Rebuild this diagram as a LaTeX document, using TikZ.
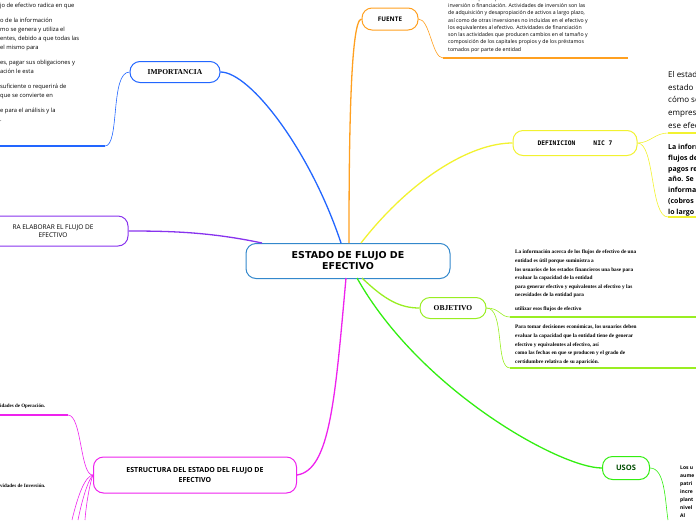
\documentclass[tikz,border=0pt]{standalone}
\usepackage{fontspec}
\setmainfont{Liberation Serif}
\setsansfont{Open Sans}
\newfontfamily\heavy{DejaVu Sans}
\newfontfamily\monof{DejaVu Sans Mono}
\definecolor{cblue}{HTML}{2266FF}
\definecolor{corange}{HTML}{FFA020}
\definecolor{cyel}{HTML}{F2F230}
\definecolor{clgreen}{HTML}{99EE22}
\definecolor{cgreen}{HTML}{33EE11}
\definecolor{cpurple}{HTML}{8833EE}
\definecolor{cmag}{HTML}{EE22EE}
\definecolor{ccenter}{HTML}{3388CC}
\begin{document}
\begin{tikzpicture}[x=1pt,y=-1pt,
 topic/.style={draw=#1, line width=1pt, rounded corners=10pt, fill=white, inner sep=0pt, align=center},
 conn/.style={draw=#1, line width=1.3pt},
 thinln/.style={draw=#1, line width=0.6pt},
 under/.style={draw=#1, line width=1.6pt},
 txt/.style={anchor=north west, inner sep=0pt, align=left, font=\sffamily\fontsize{5.8}{9}\selectfont},
 stxt/.style={anchor=north west, inner sep=0pt, align=left, font=\bfseries\fontsize{5.3}{8.6}\selectfont}]
\useasboundingbox (0,0) rectangle (696,520);
\begin{scope}
\clip (0,0) rectangle (696,520);
\node[topic=ccenter, minimum width=204pt, minimum height=35pt, font=\heavy\bfseries\fontsize{9.5}{11}\selectfont] (c) at (348,261) {ESTADO DE FLUJO DE\\EFECTIVO};
\node[topic=cblue, minimum width=90pt, minimum height=21pt, font=\bfseries\fontsize{7.5}{8}\selectfont] (imp) at (175,72) {IMPORTANCIA};
\node[topic=corange, minimum width=56pt, minimum height=22pt, font=\sffamily\bfseries\fontsize{6.3}{7}\selectfont] (fue) at (390,19) {FUENTE};
\node[topic=cyel, minimum width=124pt, minimum height=25pt, font=\monof\bfseries\fontsize{6.3}{7}\selectfont] (def) at (575,143) {DEFINICION\hspace{18pt}NIC 7};
\node[topic=clgreen, minimum width=66pt, minimum height=21pt, font=\bfseries\fontsize{7.5}{8}\selectfont] (obj) at (453,308) {OBJETIVO};
\node[topic=cgreen, minimum width=47pt, minimum height=23pt, font=\sffamily\bfseries\fontsize{7.5}{8}\selectfont, text=black!70!green] (uso) at (626,468) {USOS};
\node[topic=cpurple, minimum width=150pt, minimum height=30pt, font=\sffamily\fontsize{6.5}{8}\selectfont] (pur) at (53,231) {RA ELABORAR EL FLUJO DE\\EFECTIVO\hspace{38pt}};
\node[topic=cmag, minimum width=203pt, minimum height=36pt, font=\sffamily\bfseries\fontsize{7}{9.5}\selectfont] (est) at (195,475) {ESTRUCTURA DEL ESTADO DEL FLUJO DE\\EFECTIVO};
\coordinate (cb) at (341,243);
\draw[conn=cblue] (cb) .. controls (310,150) and (250,72) .. (imp.east);
\draw[conn=corange] (349,243) .. controls (349,150) and (350,19) .. (fue.west);
\draw[conn=cyel] (361,243) .. controls (410,180) and (470,143) .. (def.west);
\draw[conn=cpurple] (262,243) .. controls (210,232) and (170,231) .. (pur.east);
\draw[conn=cmag] (346,278) .. controls (335,400) and (330,470) .. (est.east);
\draw[conn=clgreen] (362,278) .. controls (385,300) and (400,308) .. (obj.west);
\draw[conn=cgreen] (357,278) .. controls (420,390) and (560,468) .. (uso.west);
\coordinate (impl) at (105,146);
\draw[thinln=cblue] (imp.west) .. controls (110,72) and (120,146) .. (impl);
\draw[under=cblue] (impl) -- (0,146);
\node[txt] (it) at (0,3) {jo de efectivo radica en que\\[6pt]o de la información\\mo se genera y utiliza el\\entes, debido a que todas las\\ el mismo para\\[6pt]es, pagar sus obligaciones y\\ación le esta\\[6pt]suficiente o requerirá de\\ que se convierte en\\[6pt]e para el análisis y la\\.};
\coordinate (fl) at (443,58);
\draw[thinln=corange] (fue.east) .. controls (430,19) and (432,58) .. (fl);
\draw[under=corange] (fl) -- (628,58);
\node[txt, font=\sffamily\fontsize{5.2}{7.3}\selectfont] (ft) at (448,-4) {actividades que no puedan ser calificadas como de\\inversión o financiación. Actividades de inversión son las\\de adquisición y desapropiación de activos a largo plazo,\\así como de otras inversiones no incluidas en el efectivo y\\los equivalentes al efectivo. Actividades de financiación\\son las actividades que producen cambios en el tamaño y\\composición de los capitales propios y de los préstamos\\tomados por parte de entidad};
\coordinate (d1) at (668,133);
\coordinate (d2) at (668,217);
\draw[thinln=cyel] (def.east) .. controls (650,143) and (655,133) .. (d1);
\draw[thinln=cyel] (def.east) .. controls (655,143) and (650,217) .. (d2);
\draw[under=cyel] (d1) -- (696,133);
\draw[under=cyel] (d2) -- (696,217);
\node[txt, font=\sffamily\fontsize{8}{12.8}\selectfont] (dt1) at (668,71) {El estado de\\estado de\\cómo se\\empresa\\ese efectivo};
\node[txt, font=\sffamily\bfseries\fontsize{7}{10.8}\selectfont] (dt2) at (668,144) {La información\\flujos de\\pagos realizados\\año. Se\\información\\(cobros\\lo largo};
\coordinate (o1) at (510,317);
\coordinate (o2) at (510,368);
\draw[thinln=clgreen] (obj.east) .. controls (500,308) and (500,317) .. (o1);
\draw[thinln=clgreen] (obj.east) .. controls (505,308) and (495,368) .. (o2);
\draw[under=clgreen] (o1) -- (696,317);
\draw[under=clgreen] (o2) -- (696,368);
\node[stxt] (ot1) at (515,250) {La información acerca de los flujos de efectivo de una\\entidad es útil porque suministra a\\los usuarios de los estados financieros una base para\\evaluar la capacidad de la entidad\\para generar efectivo y equivalentes al efectivo y las\\necesidades de la entidad para\\[5pt]utilizar esos flujos de efectivo};
\node[stxt] (ot2) at (515,325) {Para tomar decisiones económicas, los usuarios deben\\evaluar la capacidad que la entidad tiene de generar\\efectivo y equivalentes al efectivo, así\\como las fechas en que se producen y el grado de\\certidumbre relativa de su aparición.};
\coordinate (u1) at (668,520);
\draw[thinln=cgreen] (uso.east) .. controls (665,468) and (665,500) .. (u1);
\node[stxt, font=\sffamily\bfseries\fontsize{5}{8}\selectfont] (ut) at (680,466) {Los u\\aume\\patri\\incre\\plant\\nivel\\Al};
\coordinate (e1) at (68,415);
\draw[thinln=cmag] (est.west) .. controls (80,476) and (82,415) .. (e1);
\draw[under=cmag] (e1) -- (0,415);
\node[stxt, font=\bfseries\fontsize{5}{6}\selectfont] (et1) at (0,404) {idades de Operación.};
\node[stxt, font=\bfseries\fontsize{5}{6}\selectfont] (et2) at (0,484) {vidades de Inversión.};
\coordinate (e2) at (72,520);
\coordinate (e3) at (78,520);
\coordinate (e4) at (85,520);
\draw[thinln=cmag] (est.west) .. controls (85,476) and (78,495) .. (e2);
\draw[thinln=cmag] (est.west) .. controls (88,480) and (82,500) .. (e3);
\draw[thinln=cmag] (est.west) .. controls (90,482) and (86,505) .. (e4);
\end{scope}
\end{tikzpicture}
\end{document}
